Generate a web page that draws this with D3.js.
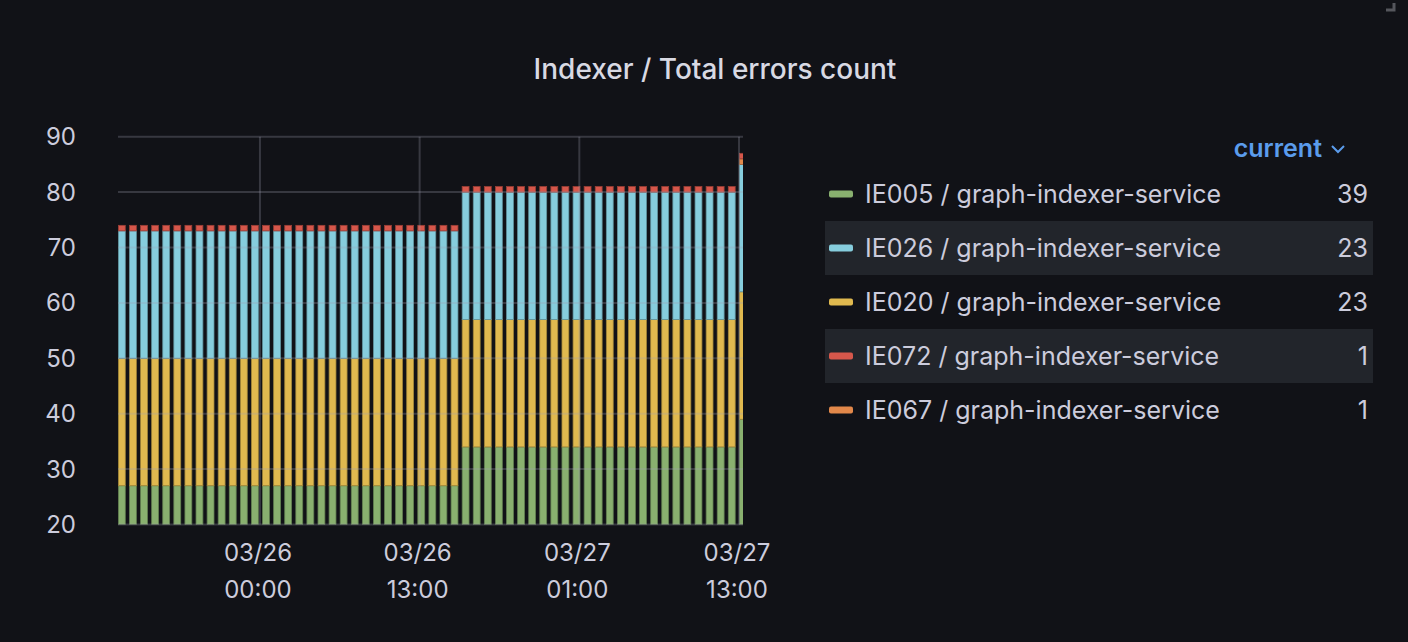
<!DOCTYPE html>
<html>
<head>
<meta charset="utf-8">
<script src="https://cdn.jsdelivr.net/npm/d3@7/dist/d3.min.js"></script>
<style>
body { margin: 0; background: #111217; overflow: hidden; }
svg text { font-family: Inter, "Noto Sans", sans-serif; }
</style>
</head>
<body>
<script>
// bars come every 50 minutes, first one at this time
var first_bar = "2023-03-25T12:20:00Z";
var bar_step_min = 50;
var x_end = "2023-03-27T11:18:00Z";

var ie005 = [27, 27, 27, 27, 27, 27, 27, 27, 27, 27, 27, 27, 27, 27, 27, 27,
             27, 27, 27, 27, 27, 27, 27, 27, 27, 27, 27, 27, 27, 27, 27,
             34, 34, 34, 34, 34, 34, 34, 34, 34, 34, 34, 34, 34,
             34, 34, 34, 34, 34, 34, 34, 34, 34, 34, 34, 34, 39];
var ie020 = [23, 23, 23, 23, 23, 23, 23, 23, 23, 23, 23, 23, 23, 23, 23, 23,
             23, 23, 23, 23, 23, 23, 23, 23, 23, 23, 23, 23, 23, 23, 23,
             23, 23, 23, 23, 23, 23, 23, 23, 23, 23, 23, 23, 23,
             23, 23, 23, 23, 23, 23, 23, 23, 23, 23, 23, 23, 23];
var ie026 = [23, 23, 23, 23, 23, 23, 23, 23, 23, 23, 23, 23, 23, 23, 23, 23,
             23, 23, 23, 23, 23, 23, 23, 23, 23, 23, 23, 23, 23, 23, 23,
             23, 23, 23, 23, 23, 23, 23, 23, 23, 23, 23, 23, 23,
             23, 23, 23, 23, 23, 23, 23, 23, 23, 23, 23, 23, 23];
var ie067 = [0, 0, 0, 0, 0, 0, 0, 0, 0, 0, 0, 0, 0, 0, 0, 0,
             0, 0, 0, 0, 0, 0, 0, 0, 0, 0, 0, 0, 0, 0, 0,
             0, 0, 0, 0, 0, 0, 0, 0, 0, 0, 0, 0, 0,
             0, 0, 0, 0, 0, 0, 0, 0, 0, 0, 0, 0, 1];
var ie072 = [1, 1, 1, 1, 1, 1, 1, 1, 1, 1, 1, 1, 1, 1, 1, 1,
             1, 1, 1, 1, 1, 1, 1, 1, 1, 1, 1, 1, 1, 1, 1,
             1, 1, 1, 1, 1, 1, 1, 1, 1, 1, 1, 1, 1,
             1, 1, 1, 1, 1, 1, 1, 1, 1, 1, 1, 1, 1];

// bottom to top
var stack_keys = ["ie005", "ie020", "ie026", "ie067", "ie072"];

var legend_keys = ["ie005", "ie026", "ie020", "ie072", "ie067"];
var legend_names = ["IE005 / graph-indexer-service",
                    "IE026 / graph-indexer-service",
                    "IE020 / graph-indexer-service",
                    "IE072 / graph-indexer-service",
                    "IE067 / graph-indexer-service"];
var legend_current = [39, 23, 23, 1, 1];

var y_ticks = [20, 30, 40, 50, 60, 70, 80, 90];
var x_tick_times = ["2023-03-25T23:00:00Z", "2023-03-26T11:00:00Z",
                    "2023-03-26T23:00:00Z", "2023-03-27T11:00:00Z"];
var x_tick_days = ["03/26", "03/26", "03/27", "03/27"];
var x_tick_hours = ["00:00", "13:00", "01:00", "13:00"];

var colors = {
    ie005: "#89b06f",
    ie020: "#e0b94f",
    ie026: "#86cddd",
    ie067: "#e2884a",
    ie072: "#d6574b"
};

var dsp = { w: 1408, h: 642, left: 118, right: 743, top: 136.7, bottom: 524.5 };
var txt = "#ccccdc";
var grid = "rgba(160,160,178,0.27)";

var svg = d3.select("body").append("svg")
    .attr("width", dsp.w)
    .attr("height", dsp.h);

var series = { ie005: ie005, ie020: ie020, ie026: ie026, ie067: ie067, ie072: ie072 };
var t0 = new Date(first_bar);
var rows = ie005.map(function(v, i) {
    var r = { t: d3.utcMinute.offset(t0, i * bar_step_min) };
    stack_keys.forEach(function(k) { r[k] = series[k][i]; });
    return r;
});

var x = d3.scaleUtc()
    .domain([t0, new Date(x_end)])
    .range([dsp.left, dsp.right]);
var y = d3.scaleLinear()
    .domain([20, 90])
    .range([dsp.bottom, dsp.top]);

// title
svg.append("text")
    .attr("x", 715).attr("y", 69)
    .attr("text-anchor", "middle")
    .attr("dominant-baseline", "central")
    .attr("font-size", 28).attr("font-weight", 500)
    .attr("fill", "#d8d9e3")
    .text("Indexer / Total errors count");

// resize corner
svg.append("path")
    .attr("d", "M1394,3V10H1386")
    .attr("fill", "none")
    .attr("stroke", "#55565c")
    .attr("stroke-width", 3);

// bars
svg.append("clipPath").attr("id", "plot-clip")
    .append("rect")
    .attr("x", dsp.left).attr("y", dsp.top - 20)
    .attr("width", dsp.right - dsp.left)
    .attr("height", dsp.bottom - dsp.top + 20);

var bw = (x(d3.utcMinute.offset(t0, bar_step_min)) - x(t0)) * 0.62;
var stacked = d3.stack().keys(stack_keys)(rows);

var barg = svg.append("g").attr("clip-path", "url(#plot-clip)");
barg.selectAll("g")
    .data(stacked)
    .join("g")
    .attr("fill", function(s) { return colors[s.key]; })
    .attr("stroke", function(s) { return d3.color(colors[s.key]).darker(0.9); })
    .attr("stroke-width", 0.8)
    .selectAll("rect")
    .data(function(s) { return s.filter(function(d) { return d[1] > d[0]; }); })
    .join("rect")
    .attr("x", function(d) { return x(d.data.t) + 0.4; })
    .attr("width", bw)
    .attr("y", function(d) { return y(d[1]); })
    .attr("height", function(d) { return y(Math.max(d[0], 19)) - y(d[1]); });

// grid on top of bars
var gridg = svg.append("g");
gridg.selectAll("line.h")
    .data(y_ticks)
    .join("line").attr("class", "h")
    .attr("x1", dsp.left).attr("x2", dsp.right)
    .attr("y1", function(d) { return y(d); })
    .attr("y2", function(d) { return y(d); })
    .attr("stroke", grid).attr("stroke-width", 2);
gridg.selectAll("line.v")
    .data(x_tick_times)
    .join("line").attr("class", "v")
    .attr("x1", function(d) { return x(new Date(d)); })
    .attr("x2", function(d) { return x(new Date(d)); })
    .attr("y1", dsp.top).attr("y2", dsp.bottom)
    .attr("stroke", grid).attr("stroke-width", 2);

// y labels
svg.append("g").selectAll("text")
    .data(y_ticks)
    .join("text")
    .attr("x", 76)
    .attr("y", function(d) { return y(d); })
    .attr("text-anchor", "end")
    .attr("dominant-baseline", "central")
    .attr("font-size", 24)
    .attr("fill", txt)
    .text(function(d) { return d; });

// x labels, two lines
var xl = svg.append("g").selectAll("g")
    .data(x_tick_times)
    .join("g")
    .attr("transform", function(d) { return "translate(" + (x(new Date(d)) - 2) + ",0)"; });
xl.append("text")
    .attr("y", 552)
    .attr("text-anchor", "middle")
    .attr("dominant-baseline", "central")
    .attr("font-size", 24).attr("fill", txt)
    .text(function(d, i) { return x_tick_days[i]; });
xl.append("text")
    .attr("y", 589)
    .attr("text-anchor", "middle")
    .attr("dominant-baseline", "central")
    .attr("font-size", 24).attr("fill", txt)
    .text(function(d, i) { return x_tick_hours[i]; });

// legend
var lg = svg.append("g");
lg.append("text")
    .attr("x", 1322).attr("y", 148)
    .attr("text-anchor", "end")
    .attr("dominant-baseline", "central")
    .attr("font-size", 25).attr("font-weight", 600)
    .attr("fill", "#5b9cec")
    .text("current");
lg.append("path")
    .attr("d", "M1332,146L1338,152L1344,146")
    .attr("fill", "none")
    .attr("stroke", "#5b9cec")
    .attr("stroke-width", 2);

var row_h = 54;
var lr = lg.selectAll("g.row")
    .data(legend_keys)
    .join("g").attr("class", "row")
    .attr("transform", function(d, i) { return "translate(0," + (194 + i * row_h) + ")"; });
lr.filter(function(d, i) { return i % 2 == 1; })
    .append("rect")
    .attr("x", 825).attr("y", -27)
    .attr("width", 548).attr("height", row_h)
    .attr("fill", "#22252b");
lr.append("rect")
    .attr("x", 829).attr("y", -3.5)
    .attr("width", 24).attr("height", 7).attr("rx", 2)
    .attr("fill", function(d) { return colors[d]; });
lr.append("text")
    .attr("x", 865).attr("y", 0)
    .attr("dominant-baseline", "central")
    .attr("font-size", 25).attr("fill", txt)
    .text(function(d, i) { return legend_names[i]; });
lr.append("text")
    .attr("x", 1368).attr("y", 0)
    .attr("text-anchor", "end")
    .attr("dominant-baseline", "central")
    .attr("font-size", 25).attr("fill", txt)
    .text(function(d, i) { return legend_current[i]; });
</script>
</body>
</html>
